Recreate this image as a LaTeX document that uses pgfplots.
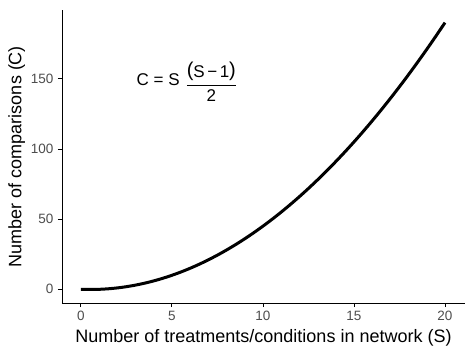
\documentclass[border=0pt]{standalone}
\usepackage{pgfplots}
\pgfplotsset{compat=1.18}
\usepackage{fontspec}
\setmainfont{Liberation Sans}
\definecolor{ticklab}{HTML}{4D4D4D}
\begin{document}
\begin{tikzpicture}
\begin{axis}[
  scale only axis,
  width=403bp, height=293bp,
  xmin=-1.04, xmax=21.1,
  ymin=-9.75, ymax=199,
  axis x line*=bottom, axis y line*=left,
  axis line style={-, line width=0.9bp, black},
  xtick={0,5,10,15,20}, ytick={0,50,100,150},
  tick align=outside, major tick length=4bp,
  tick style={line width=0.9bp, black},
  ticklabel style={font=\fontsize{13.5bp}{15bp}\selectfont, text=ticklab},
  /pgf/number format/assume math mode=true,
  xticklabel style={yshift=-1bp},
  yticklabel style={xshift=-1bp},
  xlabel={Number of treatments/conditions in network (S)},
  ylabel={Number of comparisons (C)},
  label style={font=\fontsize{18bp}{20bp}\selectfont},
  xlabel style={yshift=-2bp},
  ylabel style={yshift=-1bp},
  clip=false,
]
\addplot[black, line width=3bp, smooth] coordinates {
(0,0) (0.5,-0.125) (1,0) (1.5,0.375) (2,1) (2.5,1.875) (3,3) (3.5,4.375)
(4,6) (4.5,7.875) (5,10) (5.5,12.375) (6,15) (6.5,17.875) (7,21) (7.5,24.375)
(8,28) (8.5,31.875) (9,36) (9.5,40.375) (10,45) (10.5,49.875) (11,55)
(11.5,60.375) (12,66) (12.5,71.875) (13,78) (13.5,84.375) (14,91)
(14.5,97.875) (15,105) (15.5,112.375) (16,120) (16.5,127.875) (17,136)
(17.5,144.375) (18,153) (18.5,161.875) (19,171) (19.5,180.375) (20,190)
};
\node[font=\fontsize{17bp}{19bp}\selectfont, anchor=west, inner sep=0pt] at (axis cs:3.05,148)
  {C = S\hspace{6bp}$\vcenter{\hbox{$\displaystyle\frac{\mbox{\raisebox{0.15ex}{\fontsize{20bp}{20bp}\selectfont(}S\hspace{2.5bp}−\hspace{2.5bp}1\raisebox{0.15ex}{\fontsize{20bp}{20bp}\selectfont)}}}{\mbox{2}}$}}$};
\end{axis}
\pgfresetboundingbox
\path[use as bounding box] (-62bp,-52bp) rectangle (412bp,303bp);
\end{tikzpicture}
\end{document}
